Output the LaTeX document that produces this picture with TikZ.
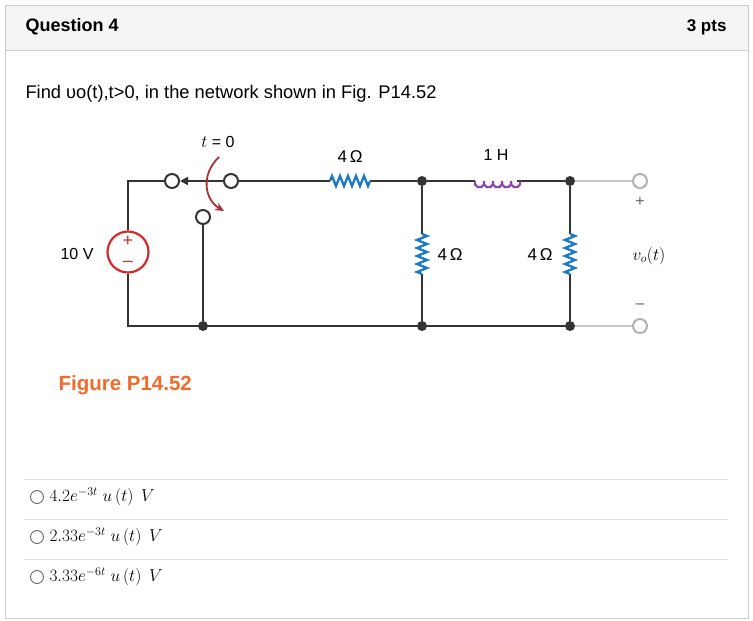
\documentclass[tikz,border=0pt]{standalone}
\usepackage{fontspec}
\setmainfont{Liberation Sans}
\usepackage{amsmath}
\usetikzlibrary{decorations.pathmorphing,arrows.meta}
\definecolor{hdr}{HTML}{F5F5F5}
\definecolor{bord}{HTML}{C7CDD1}
\definecolor{wire}{HTML}{333333}
\definecolor{resb}{HTML}{1E7BC0}
\definecolor{srcred}{HTML}{D42A2A}
\definecolor{indp}{HTML}{8E44AD}
\definecolor{figor}{HTML}{F26B2A}
\definecolor{arr}{HTML}{A83232}
\tikzset{
 w/.style={line width=2.8pt,color=wire},
 gw/.style={line width=2.8pt,color=gray!45},
 res/.style={line width=2.4pt,color=resb,decorate,decoration={zigzag,segment length=8pt,amplitude=5pt}},
 term/.style={circle,draw=wire,line width=2pt,fill=white,minimum size=14pt,inner sep=0pt},
 gterm/.style={circle,draw=gray!60,line width=2pt,fill=white,minimum size=14pt,inner sep=0pt},
 dot/.style={circle,fill=wire,minimum size=10pt,inner sep=0pt},
 lbl/.style={font=\fontsize{16}{16}\selectfont},
 sepl/.style={draw=bord!60,line width=0.8pt},
 radio/.style={circle,draw=gray!80!black,line width=0.9pt,minimum size=13pt,inner sep=0pt},
 opt/.style={anchor=west,font=\fontsize{17}{17}\selectfont}
}
\begin{document}
\begin{tikzpicture}[x=1pt,y=-1pt]
\useasboundingbox (0,0) rectangle (753,621);
\fill[white] (0,0) rectangle (753,621);
\draw[bord,line width=0.8pt,fill=hdr] (5,5) rectangle (748,50);
\draw[bord,line width=0.8pt] (5,50) rectangle (748,618);
\node[anchor=west,font=\bfseries\fontsize{18}{18}\selectfont] (q) at (22,27) {Question 4};
\node[anchor=east,font=\bfseries\fontsize{17}{17}\selectfont] (p) at (730,27) {3 pts};
\node[anchor=west,font=\fontsize{18.3}{18.3}\selectfont] (find) at (22,94) {Find υo(t),t>0, in the network shown in Fig. P14.52};
% nodes
\coordinate (TL) at (128,181); \coordinate (BL) at (128,326);
\node[circle,draw=srcred,line width=2.2pt,fill=white,minimum size=41pt,inner sep=0pt] (src) at (128,252) {};
\node[srcred,font=\fontsize{18}{18}\selectfont] (sp) at (128,241) {+};
\node[srcred,font=\fontsize{18}{18}\selectfont] (sm) at (128,264) {--};
\node[term] (s1) at (172,181) {};
\node[term] (s2) at (231,181) {};
\node[term] (s3) at (203,217) {};
\node[dot] (d1) at (203,326) {};
\coordinate (r1a) at (330,181); \coordinate (r1b) at (370,181);
\node[dot] (d2) at (422,181) {};
\node[dot] (d3) at (422,326) {};
\coordinate (r2a) at (422,234); \coordinate (r2b) at (422,274);
\coordinate (la) at (475,181); \coordinate (lb) at (517,181);
\node[dot] (d4) at (570,181) {};
\node[dot] (d5) at (570,326) {};
\coordinate (r3a) at (570,234); \coordinate (r3b) at (570,274);
\node[gterm] (o1) at (640,181) {};
\node[gterm] (o2) at (640,326) {};
% wires
\draw[w] (src.north) -- (TL) -- (s1);
\draw[w] (src.south) -- (BL) -- (d5);
\draw[w] (s2) -- (r1a); \draw[w] (r1b) -- (d2) -- (la);
\draw[w] (lb) -- (d4);
\draw[w] (s3) -- (d1);
\draw[w] (d2) -- (r2a); \draw[w] (r2b) -- (d3);
\draw[w] (d4) -- (r3a); \draw[w] (r3b) -- (d5);
\draw[w,-{Triangle[length=8pt,width=8pt]}] (s2) -- (s1);
\draw[gw] (d4) -- (o1); \draw[gw] (d5) -- (o2);
\draw[res] (r1a) -- (r1b);
\draw[res] (r2a) -- (r2b);
\draw[res] (r3a) -- (r3b);
\draw[indp,line width=2.2pt] (la) \foreach \i in {0,...,4}{ arc[start angle=200,end angle=-20,radius=4.8] } ;
\draw[arr,line width=1.8pt,-{Stealth[length=9pt,width=8pt]}] (219,157) .. controls (200,175) and (205,200) .. (224,211);
% labels
\node[lbl] (t0) at (218,142) {\(t\) = 0};
\node[lbl,font=\rmfamily\fontsize{17}{17}\selectfont] (l1) at (350,157) {4\,Ω};
\node[lbl] (l2) at (496,155) {1 H};
\node[lbl,font=\rmfamily\fontsize{17}{17}\selectfont] (l3) at (450,255) {4\,Ω};
\node[lbl,font=\rmfamily\fontsize{17}{17}\selectfont] (l4) at (540,255) {4\,Ω};
\node[lbl] (l5) at (77,254) {10 V};
\node[font=\fontsize{17}{17}\selectfont] (vo) at (649,256) {\(v_o(t)\)};
\node[font=\fontsize{16}{16}\selectfont,gray!80!black] (pl) at (640,202) {+};
\node[font=\fontsize{16}{16}\selectfont,gray!80!black] (mi) at (640,306) {--};
\node[anchor=west,figor,font=\bfseries\fontsize{20.5}{20.5}\selectfont] (fig) at (55,385) {Figure P14.52};
% options
\draw[sepl] (24,479) -- (728,479);
\draw[sepl] (24,519) -- (728,519);
\draw[sepl] (24,559) -- (728,559);
\node[radio] (c1) at (37,497) {};
\node[radio] (c2) at (37,537) {};
\node[radio] (c3) at (37,577) {};
\node[opt] (a1) at (46,497) {\(4.2e^{-3t}\;u\,(t)\;\,V\)};
\node[opt] (a2) at (46,537) {\(2.33e^{-3t}\;u\,(t)\;\,V\)};
\node[opt] (a3) at (46,577) {\(3.33e^{-6t}\;u\,(t)\;\,V\)};
\end{tikzpicture}
\end{document}
